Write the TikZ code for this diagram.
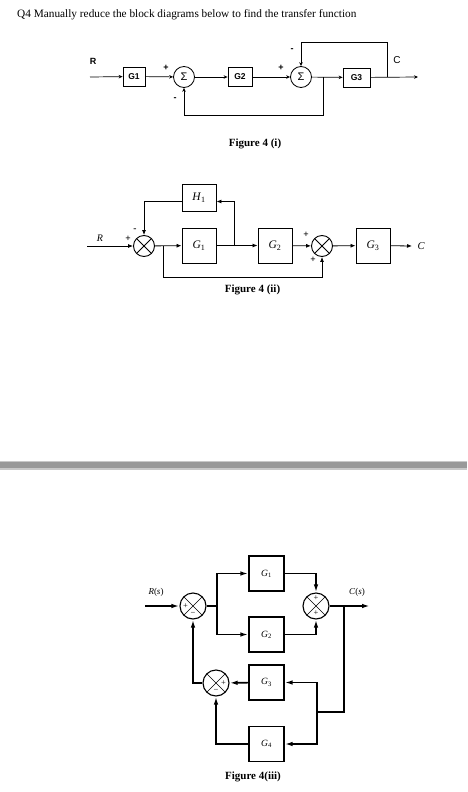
\documentclass[tikz,border=0pt]{standalone}
\usepackage{fontspec}
\setmainfont{Liberation Serif}
\newfontfamily\sansf{Liberation Sans}
\usetikzlibrary{arrows.meta,calc}
\newcommand{\sub}[2]{\textit{#1}\textsubscript{#2}}
\begin{document}
\begin{tikzpicture}[x=1pt,y=-1pt,
  f1box/.style={draw, line width=0.8pt, minimum width=22pt, minimum height=19pt, inner sep=0pt,
    font=\sansf\bfseries\fontsize{8.5}{9}\selectfont},
  f1sum/.style={draw, circle, line width=0.8pt, minimum size=21pt, inner sep=0pt,
    font=\sansf\fontsize{11}{12}\selectfont},
  f1arr/.style={line width=0.7pt, -{Stealth[length=4pt,width=3.5pt]}},
  f1lab/.style={font=\sansf\bfseries\fontsize{9}{10}\selectfont, inner sep=0pt},
  f2box/.style={draw, line width=0.9pt, minimum width=34pt, minimum height=35pt, inner sep=0pt,
    font=\fontsize{11.5}{12}\selectfont},
  f2sum/.style={draw, circle, line width=0.9pt, minimum size=21pt, inner sep=0pt,
    path picture={\draw[line width=0.9pt] (path picture bounding box.north west) -- (path picture bounding box.south east)
      (path picture bounding box.north east) -- (path picture bounding box.south west);}},
  f2arr/.style={line width=0.8pt, -{Latex[length=5pt,width=4pt]}},
  f2lab/.style={font=\bfseries\fontsize{9.5}{10}\selectfont, inner sep=0pt},
  f3box/.style={draw, line width=1.2pt, minimum width=35pt, minimum height=35pt, inner sep=0pt,
    font=\fontsize{9.5}{10}\selectfont},
  f3sum/.style={draw, circle, line width=1.1pt, minimum size=26pt, inner sep=0pt,
    path picture={\draw[line width=0.5pt] (path picture bounding box.north west) -- (path picture bounding box.south east)
      (path picture bounding box.north east) -- (path picture bounding box.south west);}},
  f3arr/.style={line width=1.6pt, -{Latex[length=8pt,width=4.5pt]}},
  f3line/.style={line width=1.6pt},
  f3sign/.style={font=\fontsize{8.5}{8.5}\selectfont, inner sep=0pt},
  figcap/.style={font=\bfseries\fontsize{11}{12}\selectfont, inner sep=0pt}
]
\useasboundingbox (0,0) rectangle (467,792);
% title
\node[anchor=west, inner sep=0pt, font=\fontsize{11.3}{13}\selectfont] (title) at (17,15)
  {Q4 Manually reduce the block diagrams below to find the transfer function};

% ---------- Figure 4 (i)
\node[f1box] (g1) at (134,76.5) {G1};
\node[f1sum] (s1) at (184,77) {Σ};
\node[f1box, minimum width=24pt] (g2) at (240,77) {G2};
\node[f1sum] (s2) at (301,77) {Σ};
\node[f1box, minimum width=27pt] (g3) at (356.5,77.5) {G3};
\coordinate (in1) at (90,77);
\coordinate (out1) at (418,77);
\coordinate (j1) at (323,77);
\coordinate (j2) at (387,77);
\draw[f1arr] (in1) -- (g1);
\draw[f1arr] (g1) -- (s1);
\draw[f1arr] (s1) -- (g2);
\draw[f1arr] (g2) -- (s2);
\draw[f1arr] (s2) -- (g3);
\draw[f1arr] (g3) -- (out1);
\draw[f1arr] (j1) -- ++(0,38) -| (s1.south);
\draw[f1arr] (j2) -- ++(0,-35) -| (s2.north);
\node[f1lab] (lR1) at (93,61) {R};
\node[f1lab] (p11) at (166,68) {+};
\node[f1lab] (m11) at (175,99) {-};
\node[f1lab] (p12) at (281,68) {+};
\node[f1lab] (m12) at (292,50) {-};
\node[f1lab, font=\sansf\fontsize{10}{11}\selectfont] (lC1) at (397,60) {C};
\node[figcap] (cap1) at (255,144) {Figure 4 (i)};

% ---------- Figure 4 (ii)
\node[f2box, minimum height=27pt] (h1) at (199,197.5) {\sub{H}{1}};
\node[f2box] (g21) at (199,245.5) {\sub{G}{1}};
\node[f2box] (g22) at (275,245.5) {\sub{G}{2}};
\node[f2box] (g23) at (373,245.5) {\sub{G}{3}};
\node[f2sum] (s21) at (144,246) {};
\node[f2sum] (s22) at (322,246) {};
\coordinate (in2) at (87,246);
\coordinate (out2) at (412,246);
\coordinate (j21) at (234,246);
\coordinate (j22) at (163,246);
\draw[f2arr] (in2) -- (s21);
\draw[f2arr] (s21) -- (g21);
\draw[f2arr] (g21) -- (g22);
\draw[f2arr] (g22) -- (s22);
\draw[f2arr] (s22) -- (g23);
\draw[f2arr] (g23) -- (out2);
\draw[f2arr] (j21) |- ([yshift=-4pt]h1.east);
\draw[f2arr] ([yshift=-4pt]h1.west) -| (s21.north);
\draw[f2arr] (j22) -- ++(0,31) -| (s22.south);
\node[f2lab, font=\itshape\fontsize{10}{11}\selectfont] (lR2) at (100,238) {R};
\node[f2lab] (p21) at (128,239) {+};
\node[f2lab] (m21) at (135,230) {-};
\node[f2lab] (p22) at (306,235) {+};
\node[f2lab] (p23) at (313,260) {+};
\node[f2lab, font=\itshape\fontsize{10.5}{11}\selectfont] (lC2) at (421,246) {C};
\node[figcap] (cap2) at (252.5,290) {Figure 4 (ii)};

% ---------- separator
\fill[fill={rgb,255:red,200;green,200;blue,200}] (0,460.5) rectangle (467,469.5);
\fill[fill={rgb,255:red,153;green,153;blue,153}] (0,462) rectangle (467,468);

% ---------- Figure 4(iii)
\node[f3box] (g31) at (266.5,573.5) {\sub{G}{1}};
\node[f3box] (g32) at (266.5,634.5) {\sub{G}{2}};
\node[f3box] (g33) at (266.5,682.5) {\sub{G}{3}};
\node[f3box] (g34) at (266.5,744) {\sub{G}{4}};
\node[f3sum] (s31) at (193,606) {};
\node[f3sum] (s32) at (316,606) {};
\node[f3sum] (s33) at (216,683) {};
\node[f3sign] (q11) at ($(s31)+(-7.5,0)$) {+};
\node[f3sign] (q12) at ($(s31)+(0,7.5)$) {−};
\node[f3sign] (q21) at ($(s32)+(0,-7.5)$) {+};
\node[f3sign] (q22) at ($(s32)+(0,7.5)$) {+};
\node[f3sign] (q31) at ($(s33)+(7.5,0)$) {+};
\node[f3sign] (q32) at ($(s33)+(0,7.5)$) {−};
\coordinate (in3) at (145,606);
\coordinate (out3) at (370,606);
\coordinate (j31) at (217,606);
\coordinate (j32) at (344,606);
\coordinate (j33) at (317,712);
\draw[f3arr] (in3) -- (s31);
\draw[f3line] (s31) -- (j31);
\draw[f3arr] (j31) |- (g31);
\draw[f3arr] (j31) |- (g32);
\draw[f3arr] (g31) -| (s32);
\draw[f3arr] (g32) -| (s32);
\draw[f3arr] (s32) -- (out3);
\draw[f3line] (j32) |- (j33);
\draw[f3arr] (j33) |- (g33);
\draw[f3arr] (j33) |- (g34);
\draw[f3arr] (g33) -- (s33);
\draw[f3arr] (g34) -| (s33);
\draw[f3arr] (s33) -| (s31);
\node[inner sep=0pt, font=\fontsize{9}{10}\selectfont] (lR3) at (156,592) {\textit{R}(\textit{s})};
\node[inner sep=0pt, font=\fontsize{9}{10}\selectfont] (lC3) at (357,592) {\textit{C}(\textit{s})};
\node[figcap] (cap3) at (253,777) {Figure 4(iii)};
\end{tikzpicture}
\end{document}
